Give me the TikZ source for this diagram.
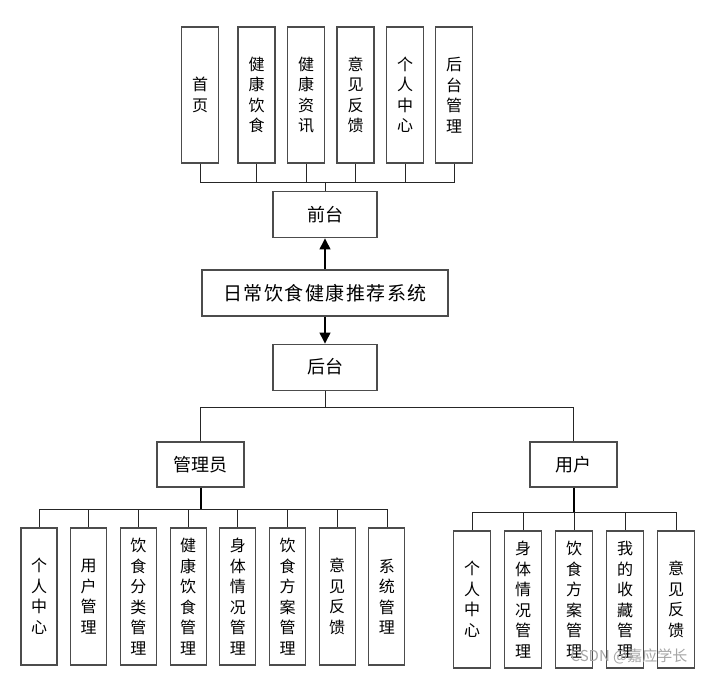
\documentclass[tikz,border=0pt]{standalone}
\usepackage{fontspec}
\setmainfont{Noto Sans CJK SC}
\newfontfamily\titlefont[LetterSpace=8]{Noto Sans CJK SC}
\usetikzlibrary{arrows.meta,positioning,calc}
\tikzstyle{block} = [rectangle, draw=black!70, line width=1.1pt, fill=white, text centered, inner sep=0pt, minimum width=104pt, minimum height=46pt, font=\fontsize{18}{20}\selectfont]
\tikzstyle{vblock} = [rectangle, draw=black!70, line width=1.1pt, fill=white, inner sep=0pt, minimum width=37pt, minimum height=137pt, align=center, font=\fontsize{16}{20.5}\selectfont]
\tikzstyle{link} = [draw=black!85, line width=0.8pt]

\begin{document}
\begin{tikzpicture}[x=1pt, y=-1pt, >={Triangle[width=11pt,length=11pt]}]
    \useasboundingbox (0,0) rectangle (713,676);
    \node[block, minimum width=246pt, font=\titlefont\fontsize{19}{22}\selectfont] (sys) at (325,293) {日常饮食健康推荐系统};
    \node[block, above=31pt of sys] (qt) {前台};
    \node[block, below=27pt of sys] (ht) {后台};
    
    % front end
    \foreach \t/\x [count=\i] in {{首\\页}/200, {健\\康\\饮\\食}/256.5, {健\\康\\资\\讯}/306, {意\\见\\反\\馈}/355.5, {个\\人\\中\\心}/405, {后\\台\\管\\理}/454}
        \node[vblock, minimum height=136pt] (f\i) at (\x,95) {\t};
    \coordinate (fbus) at (325,182);
    \foreach \i in {1,...,6}
        \draw[link] (f\i.south) |- (fbus);
    \draw[link] (fbus) -- (qt.north);
    
    \draw[->, line width=1.3pt] (sys) -- (qt);
    \draw[->, line width=1.3pt] (sys) -- (ht);
    
    % back end
    \coordinate (hbus) at (325,407);
    \node[block, minimum width=87pt, minimum height=45pt] (adm) at (200.5,464.5) {管理员};
    \node[block, minimum width=87pt, minimum height=45pt] (usr) at (573.5,464.5) {用户};
    \draw[link] (ht) -- (hbus);
    \draw[link] (hbus) -| (adm.north);
    \draw[link] (hbus) -| (usr.north);
    
    \coordinate (abus) at (200.5,509);
    \draw[line width=2pt] (adm) -- (abus);
    \foreach \t [count=\i] in {{个\\人\\中\\心}, {用\\户\\管\\理}, {饮\\食\\分\\类\\管\\理}, {健\\康\\饮\\食\\管\\理}, {身\\体\\情\\况\\管\\理}, {饮\\食\\方\\案\\管\\理}, {意\\见\\反\\馈}, {系\\统\\管\\理}} {
        \node[vblock, minimum width=36pt] (a\i) at ({39+49.7*(\i-1)},596.5) {\t};
        \draw[link] (abus) -| (a\i.north);
    }
    
    \coordinate (ubus) at (573.5,512);
    \draw[line width=2pt] (usr) -- (ubus);
    \foreach \t [count=\i] in {{个\\人\\中\\心}, {身\\体\\情\\况\\管\\理}, {饮\\食\\方\\案\\管\\理}, {我\\的\\收\\藏\\管\\理}, {意\\见\\反\\馈}} {
        \node[vblock] (u\i) at ({472+51*(\i-1)},599.5) {\t};
        \draw[link] (ubus) -| (u\i.north);
    }
    
    \node[text=black!35, font=\fontsize{15}{15}\selectfont] (wm) at (629,656) {CSDN @嘉应学长};
\end{tikzpicture}
\end{document}
